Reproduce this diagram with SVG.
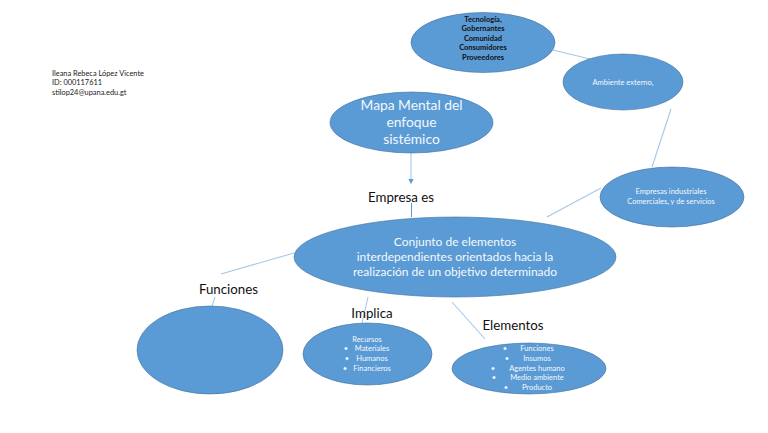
<svg xmlns="http://www.w3.org/2000/svg" width="768" height="433" viewBox="0 0 768 433">
<style>
text{font-family:Lato,"Open Sans","Liberation Sans",sans-serif;text-anchor:middle}
.n{fill:#5b9bd5;stroke:#41719c;stroke-width:.6}
.c{stroke:#a3c8ea;stroke-width:1.1;fill:none}
.w{fill:#f4f8fc}
.k{fill:#111}
.s{font-size:7.5px}
.m{font-size:13.8px}
.l{font-size:13.3px}
.t{font-size:12px}
.b{font-size:7.5px;font-weight:700}
.a{font-size:7.4px;text-anchor:start;fill:#222}
</style>
<defs><marker id="ah" markerWidth="5" markerHeight="5" refX="4" refY="2.5" orient="auto"><path d="M0 0L5 2.500L0 5z" fill="#5b9bd5"/></marker></defs>
<rect width="768" height="433" fill="#fff"/>
<g id="connectors">
<path class="c" d="M553 50L590 59"/>
<path class="c" d="M671 109L652 167"/>
<path class="c" d="M601 188L547 217"/>
<path class="c" d="M411 153L411 183" stroke-width="1.5" marker-end="url(#ah)"/>
<path d="M411.500 203L411.500 217" stroke="#5b9bd5" stroke-width="1" fill="none"/>
<path class="c" d="M294 253L221 274"/>
<path class="c" d="M215 297L212 306"/>
<path class="c" d="M368 297L362 323"/>
<path class="c" d="M452 302L485 339"/>
</g>
<g id="author">
<text class="a" x="52" y="76">Ileana Rebeca López Vicente</text>
<text class="a" x="52" y="85">ID: 000117611</text>
<text class="a" x="52" y="95">stilop24@upana.edu.gt</text>
</g>
<g id="node-tecnologia">
<ellipse class="n" cx="483" cy="42.500" rx="72" ry="30"/>
<text class="b k" x="483" y="22">Tecnología,</text>
<text class="b k" x="483" y="31">Gobernantes</text>
<text class="b k" x="483" y="41">Comunidad</text>
<text class="b k" x="483" y="50">Consumidores</text>
<text class="b k" x="483" y="60">Proveedores</text>
</g>
<g id="node-ambiente">
<ellipse class="n" cx="623" cy="82" rx="60" ry="28"/>
<text class="s w" x="623" y="85">Ambiente externo,</text>
</g>
<g id="node-mapa">
<ellipse class="n" cx="411.500" cy="122.500" rx="81.500" ry="30.500"/>
<text class="m w" x="411.500" y="110">Mapa Mental del</text>
<text class="m w" x="411.500" y="127">enfoque</text>
<text class="m w" x="411.500" y="144">sistémico</text>
</g>
<g id="node-empresas">
<ellipse class="n" cx="672" cy="197" rx="72" ry="30"/>
<text class="s w" x="671" y="194">Empresas industriales</text>
<text class="s w" x="671" y="204">Comerciales,  y de servicios</text>
</g>
<g id="label-empresa"><text class="l k" x="401" y="202">Empresa es</text></g>
<g id="node-conjunto">
<ellipse class="n" cx="455" cy="257" rx="161" ry="40"/>
<text class="t w" x="455" y="246">Conjunto de elementos</text>
<text class="t w" x="455" y="261">interdependientes orientados hacia la</text>
<text class="t w" x="455" y="276">realización de un objetivo determinado</text>
</g>
<g id="label-funciones"><text class="l k" x="228.500" y="294">Funciones</text></g>
<g id="label-implica"><text class="l k" x="372" y="318">Implica</text></g>
<g id="label-elementos"><text class="l k" x="513" y="330">Elementos</text></g>
<g id="node-funciones">
<ellipse class="n" cx="210" cy="350" rx="73" ry="44"/>
</g>
<g id="node-implica">
<ellipse class="n" cx="367.500" cy="354" rx="64.500" ry="31"/>
<text class="s w" x="367" y="342">Recursos</text>
<text class="s w" x="346" y="351">•</text><text class="s w" x="372" y="351">Materiales</text>
<text class="s w" x="347" y="361">•</text><text class="s w" x="372" y="361">Humanos</text>
<text class="s w" x="345" y="371">•</text><text class="s w" x="372" y="371">Financieros</text>
</g>
<g id="node-elementos">
<ellipse class="n" cx="529" cy="368.500" rx="77" ry="25.500"/>
<text class="s w" x="505" y="351">•</text><text class="s w" x="537" y="351">Funciones</text>
<text class="s w" x="507" y="361">•</text><text class="s w" x="537" y="361">Insumos</text>
<text class="s w" x="493" y="371">•</text><text class="s w" x="537" y="371">Agentes humano</text>
<text class="s w" x="494" y="380">•</text><text class="s w" x="537" y="380">Medio ambiente</text>
<text class="s w" x="506" y="390">•</text><text class="s w" x="537" y="390">Producto</text>
</g>
</svg>
